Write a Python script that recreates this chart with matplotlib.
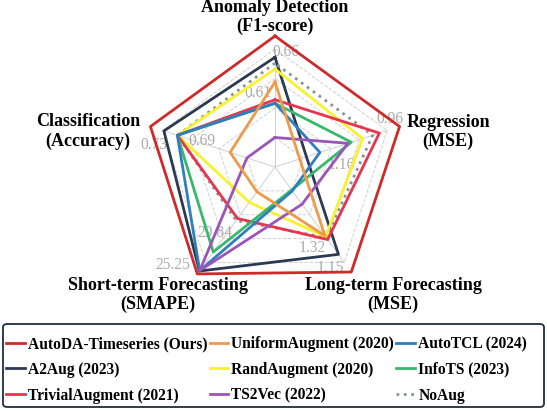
import numpy as np
import matplotlib
matplotlib.use('Agg')
import matplotlib.pyplot as plt
from matplotlib.patches import FancyBboxPatch
from matplotlib.lines import Line2D

plt.rcParams['font.family'] = ['Liberation Serif', 'DejaVu Serif']

# DATA (radar radius, outer grid ring = 1.0)
tasks = ['Anomaly Detection\n(F1-score)', 'Classification\n(Accuracy)',
         'Short-term Forecasting\n(SMAPE)', 'Long-term Forecasting\n(MSE)',
         'Regression\n(MSE)']

methods = ['AutoDA-Timeseries (Ours)', 'UniformAugment (2020)', 'AutoTCL (2024)',
           'A2Aug (2023)', 'RandAugment (2020)', 'InfoTS (2023)',
           'TrivialAugment (2021)', 'TS2Vec (2022)', 'NoAug']

autoda  = [1.11, 1.11, 1.12, 1.10, 1.11]
uniform = [0.72, 0.40, 0.26, 0.72, 0.22]
autotcl = [0.54, 0.87, 1.085, 0.25, 0.40]
a2aug   = [0.93, 0.99, 1.09, 0.915, 0.28]
randaug = [0.83, 0.87, 0.37, 0.73, 0.78]
infots  = [0.54, 0.87, 0.89, 0.24, 0.68]
trivial = [0.57, 0.87, 0.54, 0.76, 0.93]
ts2vec  = [0.25, 0.25, 1.085, 0.39, 0.65]
noaug   = [0.88, 0.87, 0.56, 0.74, 0.87]

scores = [autoda, uniform, autotcl, a2aug, randaug, infots, trivial, ts2vec, noaug]

tick_text = ['0.66', '0.61', '0.73', '0.69', '25.25', '29.84', '1.15', '1.32', '0.96', '1.16']

# styles
colors = ['#cf2a2a', '#f0994a', '#2f7fbf', '#2b3a52', '#f8f22c', '#36b96a',
          '#e8344f', '#9a55b8', '#8c9299']
styles = ['-'] * 8 + [':']
# where the tick labels sit (deg, radius)
tick_pos = [(84.8, 0.98), (103, 0.645), (169.5, 1.045), (160.5, 0.66),
            (223.7, 1.20), (227.7, 0.755), (-61.1, 0.975), (-65.6, 0.758),
            (22.7, 1.056), (1.7, 0.56)]

fig = plt.figure(figsize=(5.47, 4.11), dpi=100)
W, H = 547, 411
cx, cy, unit, rmax = 275, 167, 118, 1.2
rad = unit * rmax
ax = fig.add_axes([(cx - rad) / W, (H - cy - rad) / H, 2 * rad / W, 2 * rad / H],
                  projection='polar')

angles = np.pi / 2 + np.arange(len(tasks)) * 2 * np.pi / len(tasks)
closed = np.append(angles, angles[0])

# pentagon grid
for lvl in [0.25, 0.5, 0.75, 1.0]:
    ax.plot(closed, [lvl] * len(closed), color='#d0d0d0', lw=0.7, ls='--', zorder=1)
for a in angles:
    ax.plot([a, a], [0, 1.0], color='#d0d0d0', lw=0.7, zorder=1)

for (deg, r), t in zip(tick_pos, tick_text):
    ax.text(np.deg2rad(deg), r, t, ha='center', va='center', fontsize=11.2,
            color='#aaaaaa', zorder=2)

draw_order = [0, 3, 8, 4, 6, 5, 2, 7, 1]
for i in draw_order:
    vals = np.append(scores[i], scores[i][0])
    ax.plot(closed, vals, color=colors[i], lw=2, ls=styles[i], zorder=3 + draw_order.index(i))

ax.set_ylim(0, rmax)
ax.set_xticks([])
ax.set_yticks([])
ax.grid(False)
ax.spines['polar'].set_visible(False)
ax.patch.set_alpha(0)

# task labels
label_xy = [(275, 17), (88, 131.5), (158, 295), (393, 295), (448, 132)]
for (x, y), t in zip(label_xy, tasks):
    fig.text(x / W, 1 - y / H, t, ha='center', va='center', fontsize=13,
             fontweight='bold', linespacing=1.15)

# legend (row-wise order -> column-wise for matplotlib)
handles = [Line2D([0], [0], color=colors[i], lw=2, ls=styles[i]) for i in range(len(methods))]
order = [0, 3, 6, 1, 4, 7, 2, 5, 8]
leg = fig.legend([handles[i] for i in order], [methods[i] for i in order],
                 loc='upper left', bbox_to_anchor=(6 / W, 1 - 336 / H), ncol=3,
                 frameon=False, prop={'family': 'Liberation Serif', 'weight': 'bold', 'size': 11.2},
                 handlelength=1.2, handletextpad=0.2, columnspacing=0.15,
                 labelspacing=0.63, borderpad=0, borderaxespad=0)

box = FancyBboxPatch((3 / W, 4 / H), 541 / W, 83 / H, boxstyle='round,pad=0,rounding_size=0.008',
                     transform=fig.transFigure, facecolor='none', edgecolor='#1f2c48', lw=1.3)
fig.patches.append(box)

fig.savefig('out.png', dpi=100)
